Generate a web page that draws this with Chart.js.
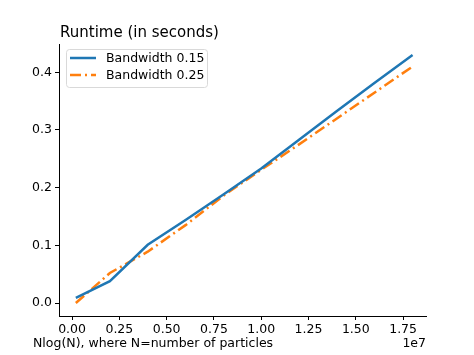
<!DOCTYPE html>
<html>
<head>
<meta charset="utf-8">
<script src="https://cdn.jsdelivr.net/npm/chart.js@4.4.1/dist/chart.umd.min.js"></script>
<style>
  html, body { margin: 0; padding: 0; background: #fff; }
  #chart { display: block; }
</style>
</head>
<body>
<canvas id="chart" width="474" height="355"></canvas>
<script>
  // values (x in units of 1e7)
  const nlogn = [0.02, 0.2, 0.4, 0.6, 0.8, 1.0, 1.2, 1.4, 1.6, 1.8];
  const runtime015 = [0.009, 0.038, 0.101, 0.144, 0.188, 0.233, 0.283, 0.333, 0.382, 0.43];
  const runtime025 = [0.0, 0.052, 0.089, 0.135, 0.186, 0.231, 0.275, 0.32, 0.365, 0.41];
  const xTicks = [0, 0.25, 0.5, 0.75, 1.0, 1.25, 1.5, 1.75];
  const yTicks = [0.0, 0.1, 0.2, 0.3, 0.4];

  const FONT = "'DejaVu Sans', sans-serif";
  const SCALE = 1e7;

  function toPoints(values) {
    return nlogn.map((x, i) => ({ x: x * SCALE, y: values[i] }));
  }

  const textPlugin = {
    id: "mplText",
    afterDraw(chart) {
      const ctx = chart.ctx;
      const area = chart.chartArea;
      ctx.save();
      ctx.fillStyle = "#000";
      ctx.textBaseline = "alphabetic";

      ctx.font = `15px ${FONT}`;
      ctx.textAlign = "left";
      ctx.fillText("Runtime (in seconds)", area.left + 1, 37);

      ctx.font = `12.5px ${FONT}`;
      ctx.fillText("Nlog(N), where N=number of particles", 33, 347);
      ctx.textAlign = "right";
      ctx.fillText("1e7", area.right, 347);

      // legend box
      const lx = 66, ly = 49, lw = 141, lh = 38;
      ctx.beginPath();
      ctx.roundRect(lx + 0.5, ly + 0.5, lw, lh, 3);
      ctx.fillStyle = "rgba(255,255,255,0.8)";
      ctx.fill();
      ctx.strokeStyle = "#d9d9d9";
      ctx.lineWidth = 1;
      ctx.stroke();

      chart.data.datasets.forEach((ds, i) => {
        const y = 58 + i * 17;
        ctx.beginPath();
        ctx.setLineDash(ds.borderDash || []);
        ctx.strokeStyle = ds.borderColor;
        ctx.lineWidth = ds.borderWidth;
        ctx.moveTo(70, y);
        ctx.lineTo(96, y);
        ctx.stroke();
        ctx.setLineDash([]);
        ctx.fillStyle = "#000";
        ctx.textAlign = "left";
        ctx.textBaseline = "middle";
        ctx.font = `12.5px ${FONT}`;
        ctx.fillText(ds.label, 106, y + 1);
      });
      ctx.restore();
    },
  };

  new Chart(document.getElementById("chart"), {
    type: "line",
    data: {
      datasets: [
        {
          label: "Bandwidth 0.15",
          data: toPoints(runtime015),
          borderColor: "#1f77b4",
          borderWidth: 2.5,
          pointRadius: 0,
          tension: 0,
          fill: false,
        },
        {
          label: "Bandwidth 0.25",
          data: toPoints(runtime025),
          borderColor: "#ff7f0e",
          borderWidth: 2.5,
          borderDash: [11, 4, 2, 4],
          pointRadius: 0,
          tension: 0,
          fill: false,
        },
      ],
    },
    options: {
      responsive: false,
      animation: false,
      layout: { padding: { top: 44, right: 48, left: 0, bottom: 0 } },
      plugins: { legend: { display: false }, tooltip: { enabled: false }, title: { display: false } },
      scales: {
        x: {
          type: "linear",
          min: -0.069 * SCALE,
          max: 1.871 * SCALE,
          afterFit: (scale) => { scale.height = 39; },
          afterBuildTicks: (scale) => { scale.ticks = xTicks.map((v) => ({ value: v * SCALE })); },
          grid: { drawOnChartArea: false, drawTicks: true, tickLength: 4, color: "#000" },
          border: { display: true, color: "#000", width: 1 },
          ticks: {
            color: "#000",
            font: { family: FONT, size: 12.5 },
            padding: 2,
            maxRotation: 0,
            autoSkip: false,
            callback: (v) => (v / SCALE).toFixed(2),
          },
        },
        y: {
          min: -0.0225,
          max: 0.449,
          afterFit: (scale) => { scale.width = 59; },
          afterBuildTicks: (scale) => { scale.ticks = yTicks.map((v) => ({ value: v })); },
          grid: { drawOnChartArea: false, drawTicks: true, tickLength: 4, color: "#000" },
          border: { display: true, color: "#000", width: 1 },
          ticks: {
            color: "#000",
            font: { family: FONT, size: 12.5 },
            padding: 3,
            autoSkip: false,
            callback: (v) => v.toFixed(1),
          },
        },
      },
    },
    plugins: [textPlugin],
  });
</script>
</body>
</html>
